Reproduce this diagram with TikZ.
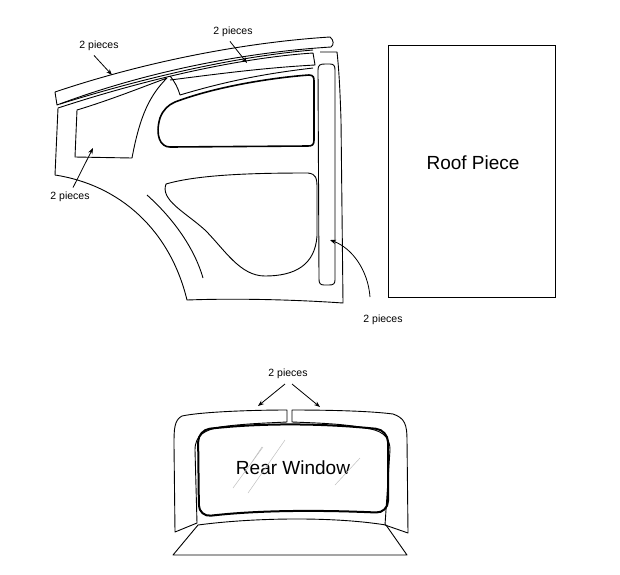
\documentclass[tikz,border=0pt]{standalone}
\usepackage{fontspec}
\setmainfont{Liberation Sans}
\usetikzlibrary{arrows.meta}
\begin{document}
\begin{tikzpicture}[x=1pt,y=-1pt,
  body/.style={line width=0.9pt,line join=round},
  glass/.style={line width=2pt,rounded corners=12pt},
  lbl/.style={font=\fontsize{10.5}{12}\selectfont},
  big/.style={font=\fontsize{19}{22}\selectfont},
  ptr/.style={line width=0.8pt,-{Stealth[length=6pt,width=4.5pt]}},
  streak/.style={gray!50,line width=0.5pt}]
\useasboundingbox (0,0) rectangle (620,574);
% roof strip
\draw[body] (55,92) .. controls (150,60) and (250,42) .. (330,37) .. controls (334,40) and (334,45) .. (331,47)
  .. controls (250,52) and (150,70) .. (57,105) -- cycle;
% second strip and body
\draw[body] (58,108) .. controls (150,78) and (240,58) .. (313,53) -- (315,65) .. controls (260,68) and (210,75) .. (170,80);
\draw[body] (60,104) .. controls (150,76) and (240,56) .. (313,50);
\draw[body] (58,108) -- (55,175) .. controls (120,185) and (170,230) .. (187,300)
  .. controls (240,298) and (300,300) .. (343,303) -- (341,120) .. controls (340,90) and (339,70) .. (337,52) -- (320,52);
% left panel
\draw[body] (77,110) .. controls (110,100) and (140,88) .. (167,78) .. controls (150,95) and (140,115) .. (132,158) -- (75,157) -- cycle;
% divider and upper panel
\draw[body] (170,76) .. controls (175,82) and (178,88) .. (180,95) .. controls (230,80) and (270,73) .. (313,68);
% window
\draw[line width=1.6pt] (175,102) .. controls (220,85) and (280,77) .. (309,75) .. controls (314,75) and (314,78) .. (314,82)
  -- (314,140) .. controls (314,145) and (312,146) .. (308,146) -- (170,147) .. controls (160,147) and (155,135) .. (160,118) .. controls (163,110) and (168,105) .. (175,102) -- cycle;
% lower door panel
\draw[body] (166,184) .. controls (200,174) and (260,173) .. (308,173) .. controls (316,174) and (317,178) .. (317,188)
  -- (317,236) .. controls (315,265) and (295,276) .. (265,276) .. controls (240,276) and (225,250) .. (205,230)
  .. controls (185,212) and (160,200) .. (166,184) -- cycle;
% inner arch line
\draw[body] (147,195) .. controls (175,220) and (195,250) .. (203,278);
% pillar strip
\draw[body] (318,70) .. controls (318,65) and (320,64) .. (325,64) -- (330,64) .. controls (334,64) and (335,66) .. (335,70)
  -- (335,280) .. controls (335,284) and (333,285) .. (329,285) -- (324,285) .. controls (320,285) and (319,283) .. (319,279) -- cycle;
% labels and arrows
\node[lbl] (l1) at (99,46) {2 pieces};
\node[lbl] (l2) at (233,32) {2 pieces};
\node[lbl] (l3) at (70,197) {2 pieces};
\node[lbl] (l4) at (383,320) {2 pieces};
\coordinate (t1) at (112,75);
\coordinate (t2) at (247,63);
\coordinate (t3) at (93,148);
\coordinate (t4) at (330,240);
\draw[ptr] (l1.south) ++(-5,1) -- (t1);
\draw[ptr] (l2.south) ++(-3,1) -- (t2);
\draw[ptr] (l3.north) ++(3,-1) -- (t3);
\draw[ptr] (370,297) .. controls (368,270) and (352,248) .. (t4);
% roof piece
\node[draw,line width=0.9pt,minimum width=167pt,minimum height=252pt,big] (roof) at (471.5,171) {};
\node[big] (rooftext) at (473,163) {Roof Piece};
% rear window assembly
\node[lbl] (l5) at (288,374) {2 pieces};
\coordinate (a5) at (258,406);
\coordinate (b5) at (320,407);
\draw[ptr] (285,384) -- (a5);
\draw[ptr] (292,384) -- (b5);
\draw[body] (287,410) .. controls (250,410) and (200,412) .. (182,416) .. controls (174,420) and (174,430) .. (174,445)
  -- (175,532) -- (197,523) -- (195,450) .. controls (195,435) and (205,430) .. (220,427) .. controls (240,424) and (265,423) .. (287,422) -- cycle;
\draw[body] (292,410) .. controls (330,410) and (370,411) .. (393,414) .. controls (405,418) and (407,425) .. (407,440)
  -- (408,533) -- (385,525) -- (390,450) .. controls (390,435) and (380,430) .. (365,428) .. controls (345,424) and (320,423) .. (292,422) -- cycle;
\draw[glass] (198,430) .. controls (260,423) and (320,423) .. (388,430) -- (388,513) .. controls (320,510) and (260,510) .. (199,517) -- cycle;
\node[big] (rwtext) at (293,468) {Rear Window};
\draw[streak] (233,488) -- (263,447);
\draw[streak] (248,493) -- (285,440);
\draw[streak] (252,462) -- (262,447);
\draw[streak] (335,485) -- (360,458);
\draw[body] (198,525) .. controls (250,518) and (330,516) .. (386,525) -- (407,555) -- (173,555) -- cycle;
\end{tikzpicture}
\end{document}
